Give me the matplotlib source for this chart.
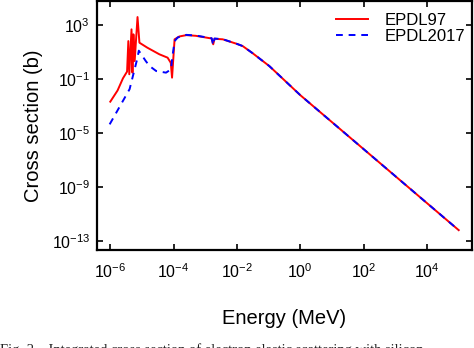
import matplotlib
matplotlib.use("Agg")
import matplotlib.pyplot as plt
import numpy as np

plt.rcParams['font.family'] = ['Liberation Sans', 'DejaVu Sans']
plt.rcParams['mathtext.fontset'] = 'custom'
plt.rcParams['mathtext.rm'] = 'Liberation Sans'
plt.rcParams['mathtext.it'] = 'Liberation Sans:italic'
plt.rcParams['mathtext.bf'] = 'Liberation Sans:bold'

# log10(Energy / MeV) and log10(cross section / b)
epdl97_logE = [-6.0, -5.77, -5.6, -5.47, -5.43, -5.40, -5.33, -5.30, -5.27, -5.23,
               -5.14, -5.08, -4.83, -4.45, -4.19, -4.09, -4.05, -3.97, -3.82, -3.6,
               -3.3, -3.0, -2.8, -2.75, -2.71, -2.45, -2.0, -1.82, -1.5, -0.98,
               0.0, 1.0, 2.0, 3.0, 4.0, 5.0]
epdl97_logS = [-2.68, -1.85, -0.95, -0.45, 1.81, -0.65, 2.68, -0.53, 2.31, 0.33,
               3.59, 1.69, 1.32, 0.83, 0.58, 0.2, -0.9, 1.94, 2.15, 2.25,
               2.2, 2.08, 2.0, 1.57, 1.98, 1.94, 1.6, 1.44, 0.9, -0.04,
               -2.2, -4.2, -6.2, -8.2, -10.2, -12.2]

epdl2017_logE = [-6.02, -5.39, -5.14, -5.10, -4.88, -4.76, -4.55, -4.24, -4.08, -4.05,
                 -3.97, -3.87, -3.6, -3.3, -3.0, -2.8, -2.75, -2.71, -2.45, -2.0,
                 -1.82, -1.5, -0.98, 0.0, 1.0, 2.0, 3.0, 4.0, 5.0]
epdl2017_logS = [-4.36, -1.75, 0.58, 1.1, 0.33, -0.04, -0.41, -0.53, -0.28, 0.46,
                 1.81, 2.08, 2.27, 2.22, 2.1, 2.02, 1.5, 2.0, 1.95, 1.6,
                 1.44, 0.9, -0.04, -2.2, -4.2, -6.2, -8.2, -10.2, -12.2]

x_ticks = [1e-6, 1e-4, 1e-2, 1e0, 1e2, 1e4]
y_ticks = [1e-13, 1e-9, 1e-5, 1e-1, 1e3]

fig = plt.figure(figsize=(4.74, 3.48), dpi=100)
ax = fig.add_axes([0.2046, 0.2816, 0.7912, 0.7144])

ax.plot(10 ** np.array(epdl97_logE), 10 ** np.array(epdl97_logS),
        color='#ff0000', lw=1.4, label='EPDL97')
ax.plot(10 ** np.array(epdl2017_logE), 10 ** np.array(epdl2017_logS),
        color='#0000ff', lw=1.4, ls=(0, (3.5, 3)), label='EPDL2017')

ax.set_xscale('log')
ax.set_yscale('log')
ax.set_xlim(10 ** -6.42, 10 ** 5.42)
ax.set_ylim(10 ** -13.67, 10 ** 4.75)
ax.set_xticks(x_ticks)
ax.set_yticks(y_ticks)
ax.minorticks_off()
ax.tick_params(direction='in', length=4, width=1.2, top=True, right=True,
               labelsize=11.5)
ax.tick_params(axis='x', pad=9)
ax.tick_params(axis='y', pad=5)
for s in ax.spines.values():
    s.set_linewidth(1.6)

ax.set_xlabel('Energy (MeV)', fontsize=14.5, labelpad=20)
ax.set_ylabel('Cross section (b)', fontsize=14.5, labelpad=6)

ax.legend(loc='upper right', frameon=False, fontsize=12, handlelength=1.9,
          handletextpad=1.0, labelspacing=0.05, borderaxespad=0.3,
          bbox_to_anchor=(1.012, 1.0))

fig.text(0.0, 1 - 343.5 / 348, 'Fig. 2    Integrated cross section of electron elastic scattering with silicon',
         fontsize=10.5, family='Liberation Serif', va='top', ha='left', color='#222222')

fig.savefig('out.png', dpi=100)
